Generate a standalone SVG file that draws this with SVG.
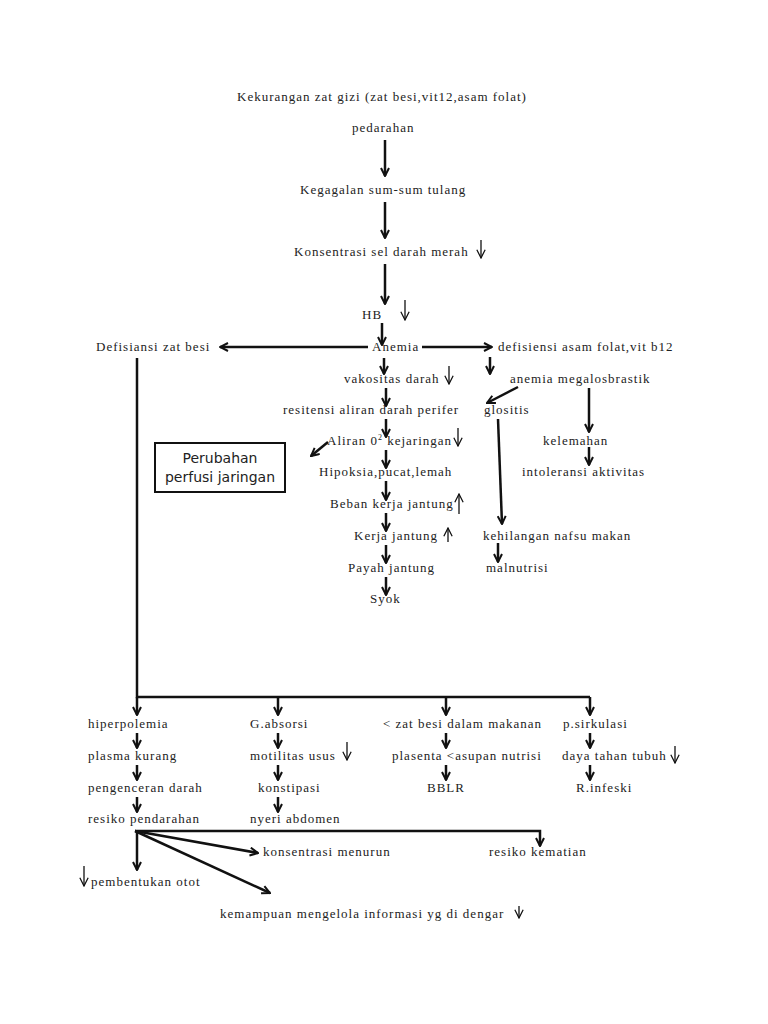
<svg xmlns="http://www.w3.org/2000/svg" width="768" height="1024" viewBox="0 0 768 1024">
<style>
text{font-family:"Liberation Serif",serif;font-size:13px;fill:#222;letter-spacing:1px}
.s{font-family:"DejaVu Sans",sans-serif;font-size:14px;letter-spacing:0}
#connectors line,#connectors polyline{stroke:#111;stroke-width:2.5;fill:none}
.t{stroke-width:1.3!important}
</style>
<defs>
<marker id="a" viewBox="0 0 10 10" refX="9" refY="5" markerWidth="4" markerHeight="4" orient="auto" markerUnits="strokeWidth"><path d="M1,1 L9,5 L1,9" fill="none" stroke="#111" stroke-width="2"/></marker>
<marker id="b" viewBox="0 0 10 10" refX="9" refY="5" markerWidth="8" markerHeight="8" orient="auto" markerUnits="strokeWidth"><path d="M1,1 L9,5 L1,9" fill="none" stroke="#111" stroke-width="1.2"/></marker>
</defs>
<rect width="768" height="1024" fill="#fff"/>
<g id="connectors" marker-end="url(#a)">
<line x1="385" y1="140" x2="385" y2="176"/>
<line x1="385" y1="202" x2="385" y2="238"/>
<line x1="385" y1="264" x2="385" y2="304"/>
<line x1="382" y1="323" x2="382" y2="345"/>
<line x1="368" y1="347" x2="220" y2="347"/>
<line x1="422" y1="347" x2="492" y2="347"/>
<line x1="384" y1="358" x2="384" y2="374"/>
<line x1="386" y1="388" x2="386" y2="406"/>
<line x1="386" y1="419" x2="386" y2="437"/>
<line x1="386" y1="450" x2="386" y2="468"/>
<line x1="386" y1="481" x2="386" y2="500"/>
<line x1="386" y1="513" x2="386" y2="531"/>
<line x1="386" y1="545" x2="386" y2="563"/>
<line x1="386" y1="577" x2="386" y2="595"/>
<line x1="328" y1="442" x2="311" y2="456"/>
<line x1="490" y1="357" x2="490" y2="374"/>
<line x1="518" y1="387" x2="487" y2="403"/>
<line x1="589" y1="388" x2="589" y2="432"/>
<line x1="498" y1="419" x2="502" y2="524"/>
<line x1="498" y1="543" x2="498" y2="562"/>
<line x1="589" y1="447" x2="589" y2="465"/>
<polyline points="137,358 137,697 590,697" marker-end="none"/>
<line x1="137" y1="697" x2="137" y2="715"/>
<line x1="278" y1="697" x2="278" y2="715"/>
<line x1="446" y1="697" x2="446" y2="715"/>
<line x1="590" y1="697" x2="590" y2="715"/>
<line x1="137" y1="733" x2="137" y2="748"/>
<line x1="137" y1="765" x2="137" y2="780"/>
<line x1="137" y1="797" x2="137" y2="812"/>
<line x1="278" y1="733" x2="278" y2="748"/>
<line x1="278" y1="765" x2="278" y2="780"/>
<line x1="278" y1="797" x2="278" y2="812"/>
<line x1="446" y1="733" x2="446" y2="748"/>
<line x1="446" y1="765" x2="446" y2="780"/>
<line x1="590" y1="733" x2="590" y2="748"/>
<line x1="590" y1="765" x2="590" y2="780"/>
<polyline points="135,831 540,831 540,846"/>
<line x1="137" y1="831" x2="137" y2="870"/>
<line x1="135" y1="831" x2="258" y2="853"/>
<line x1="135" y1="831" x2="270" y2="893"/>
<g class="t" marker-end="url(#b)">
<line class="t" x1="481" y1="240" x2="481" y2="258"/>
<line class="t" x1="405" y1="300" x2="405" y2="320"/>
<line class="t" x1="449" y1="366" x2="449" y2="384"/>
<line class="t" x1="458" y1="428" x2="458" y2="446"/>
<line class="t" x1="459" y1="514" x2="459" y2="494"/>
<line class="t" x1="448" y1="542" x2="448" y2="528"/>
<line class="t" x1="347" y1="742" x2="347" y2="760"/>
<line class="t" x1="675" y1="746" x2="675" y2="763"/>
<line class="t" x1="84" y1="866" x2="84" y2="886"/>
<line class="t" x1="519" y1="906" x2="519" y2="918"/>
</g>
</g>
<g id="n-title"><text x="237" y="101">Kekurangan zat gizi (zat besi,vit12,asam folat)</text></g>
<g id="n-pedarahan"><text x="352" y="132">pedarahan</text></g>
<g id="n-kegagalan"><text x="300" y="194">Kegagalan sum-sum tulang</text></g>
<g id="n-konsentrasi"><text x="294" y="256">Konsentrasi sel darah merah</text></g>
<g id="n-hb"><text x="362" y="319">HB</text></g>
<g id="n-anemia"><text x="372" y="351">Anemia</text></g>
<g id="n-defbesi"><text x="96" y="351">Defisiansi zat besi</text></g>
<g id="n-deffolat"><text x="498" y="351">defisiensi asam folat,vit b12</text></g>
<g id="n-vakositas"><text x="344" y="383">vakositas darah</text></g>
<g id="n-resitensi"><text x="283" y="414">resitensi aliran darah perifer</text></g>
<g id="n-aliran"><text x="327" y="445">Aliran 0<tspan font-size="8" dy="-5">2</tspan><tspan dy="5"> kejaringan</tspan></text></g>
<g id="n-box"><rect x="155" y="443" width="130" height="49" fill="#fff" stroke="#111" stroke-width="2"/><text class="s" x="220" y="463" text-anchor="middle">Perubahan</text><text class="s" x="220" y="482" text-anchor="middle">perfusi jaringan</text></g>
<g id="n-hipoksia"><text x="319" y="476">Hipoksia,pucat,lemah</text></g>
<g id="n-beban"><text x="330" y="508">Beban kerja jantung</text></g>
<g id="n-kerja"><text x="354" y="540">Kerja jantung</text></g>
<g id="n-payah"><text x="348" y="572">Payah jantung</text></g>
<g id="n-syok"><text x="370" y="603">Syok</text></g>
<g id="n-megalo"><text x="510" y="383">anemia megalosbrastik</text></g>
<g id="n-glositis"><text x="484" y="414">glositis</text></g>
<g id="n-kelemahan"><text x="543" y="445">kelemahan</text></g>
<g id="n-intoleransi"><text x="522" y="476">intoleransi aktivitas</text></g>
<g id="n-kehilangan"><text x="483" y="540">kehilangan nafsu makan</text></g>
<g id="n-malnutrisi"><text x="486" y="572">malnutrisi</text></g>
<g id="n-hiper"><text x="88" y="728">hiperpolemia</text></g>
<g id="n-plasma"><text x="88" y="760">plasma kurang</text></g>
<g id="n-pengenceran"><text x="88" y="792">pengenceran darah</text></g>
<g id="n-resiko"><text x="88" y="823">resiko pendarahan</text></g>
<g id="n-gabsorsi"><text x="250" y="728">G.absorsi</text></g>
<g id="n-motilitas"><text x="250" y="760">motilitas usus</text></g>
<g id="n-konstipasi"><text x="258" y="792">konstipasi</text></g>
<g id="n-nyeri"><text x="250" y="823">nyeri abdomen</text></g>
<g id="n-zatbesi"><text x="383" y="728">&lt; zat besi dalam makanan</text></g>
<g id="n-plasenta"><text x="392" y="760">plasenta &lt;asupan nutrisi</text></g>
<g id="n-bblr"><text x="427" y="792">BBLR</text></g>
<g id="n-psirk"><text x="563" y="728">p.sirkulasi</text></g>
<g id="n-daya"><text x="562" y="760">daya tahan tubuh</text></g>
<g id="n-rinf"><text x="576" y="792">R.infeski</text></g>
<g id="n-konsmen"><text x="263" y="856">konsentrasi menurun</text></g>
<g id="n-kematian"><text x="489" y="856">resiko kematian</text></g>
<g id="n-otot"><text x="91" y="886">pembentukan otot</text></g>
<g id="n-kemampuan"><text x="220" y="918">kemampuan mengelola informasi yg di dengar</text></g>
</svg>
